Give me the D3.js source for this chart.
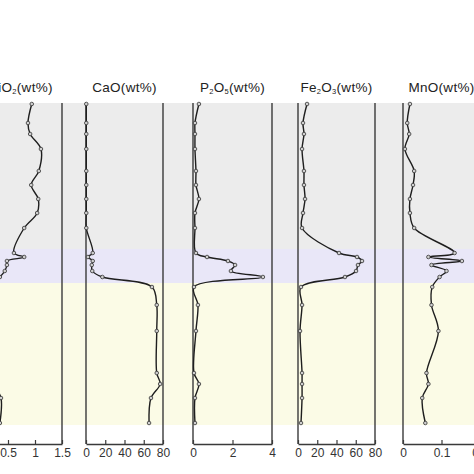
<!DOCTYPE html>
<html>
<head>
<meta charset="utf-8">
<script src="https://cdn.jsdelivr.net/npm/d3@7"></script>
<style>
  html, body { margin: 0; padding: 0; background: #fff; }
  svg { display: block; font-family: "Liberation Sans", Arial, sans-serif; }
</style>
</head>
<body>
<svg id="chart" width="474" height="474"></svg>
<script>
// sample positions (depth, arbitrary units, top = 0)
const depths = [0.1, 2.0, 3.1, 4.6, 6.8, 8.2, 9.6, 11.0, 12.5, 15.0, 15.4, 15.8, 16.2, 16.8, 17.4, 18.4, 20.2, 22.8, 27.0, 28.1, 29.5, 32.0];

const tio2  = [0.94, 0.87, 0.91, 1.11, 1.07, 0.93, 1.06, 1.04, 0.80, 0.61, 0.80, 0.48, 0.48, 0.44, 0.35, 0.18, 0.14, 0.15, 0.20, 0.24, 0.37, 0.35];
const cao   = [0.3, 0.3, 0.3, 0.3, 0.3, 0.3, 0.3, 0.3, 0.3, 7, 2, 7, 6, 6.5, 17, 68.5, 73.5, 73.5, 73.5, 77, 67.5, 65.5];
const p2o5  = [0.30, 0.10, 0.10, 0.10, 0.15, 0.15, 0.30, 0.10, 0.10, 0.15, 0.71, 1.77, 2.13, 1.92, 3.54, 0.05, 0.25, 0.15, 0.05, 0.30, 0.10, 0.10];
const fe2o3 = [9.4, 5.2, 6.2, 4.2, 6.2, 6.2, 7.3, 5.2, 4.2, 42.6, 61.3, 66.5, 62.3, 60.3, 48.8, 3.1, 4.2, 2.1, 4.2, 4.2, 4.2, 3.1];
const mno   = [0.018, 0.011, 0.016, 0.005, 0.029, 0.026, 0.018, 0.018, 0.029, 0.134, 0.066, 0.153, 0.074, 0.113, 0.095, 0.076, 0.074, 0.092, 0.061, 0.066, 0.050, 0.058];

// background units: [top, bottom]
const bands = [[0, 14.6], [14.6, 18.0], [18.0, 32.2]];
const bandColors = ["#ececec", "#e9e7f8", "#fbfbe6"];

// title pieces: [text, isSubscript]
const titles = [
  [["Ti"], ["O"], ["2", 1], ["(wt%)"]],
  [["CaO(wt%)"]],
  [["P"], ["2", 1], ["O"], ["5", 1], ["(wt%)"]],
  [["Fe"], ["2", 1], ["O"], ["3", 1], ["(wt%)"]],
  [["MnO(wt%)"]]
];
const domains = [[0, 1.5], [0, 80], [0, 4], [0, 80], [0, 0.2]];
const tickValues = [[0, 0.5, 1, 1.5], [0, 20, 40, 60, 80], [0, 2, 4], [0, 20, 40, 60, 80], [0, 0.1, 0.2]];
const series = [tio2, cao, p2o5, fe2o3, mno];

// layout
const svg = d3.select("#chart");
const plotTop = 103, plotBottom = 425, axisY = 444;
const panelX = [[-19, 62], [86, 163], [193, 272], [298, 375], [403, 480]];

const y = d3.scaleLinear().domain([0, 32.2]).range([plotTop, plotBottom]);

svg.selectAll("rect.band")
  .data(bands)
  .join("rect")
  .attr("class", "band")
  .attr("x", 0)
  .attr("width", 474)
  .attr("y", d => y(d[0]))
  .attr("height", d => y(d[1]) - y(d[0]))
  .attr("fill", (d, i) => bandColors[i]);

panelX.forEach((range, i) => {
  const x = d3.scaleLinear().domain(domains[i]).range(range);
  const g = svg.append("g");

  // borders
  range.forEach(px => {
    g.append("line")
      .attr("x1", px).attr("x2", px)
      .attr("y1", plotTop).attr("y2", axisY)
      .attr("stroke", "#3a3a3a").attr("stroke-width", 1.4);
  });

  // bottom axis
  const axis = d3.axisBottom(x)
    .tickValues(tickValues[i])
    .tickFormat(d3.format("~g"))
    .tickSizeInner(-4)
    .tickSizeOuter(0)
    .tickPadding(4);
  const ag = g.append("g")
    .attr("transform", `translate(0,${axisY})`)
    .call(axis);
  ag.select(".domain").attr("stroke", "#3a3a3a").attr("stroke-width", 1.4);
  ag.selectAll(".tick line").attr("stroke", "#3a3a3a").attr("stroke-width", 1.2);
  ag.selectAll(".tick text").attr("fill", "#333").attr("font-size", 12)
    .attr("font-family", "'Liberation Sans', Arial, sans-serif");

  // title
  const t = g.append("text")
    .attr("x", (range[0] + range[1]) / 2)
    .attr("y", 92)
    .attr("text-anchor", "middle")
    .attr("font-size", 13.5)
    .attr("letter-spacing", 0.3)
    .attr("fill", "#222");
  let shifted = false;
  titles[i].forEach(([txt, sub]) => {
    const ts = t.append("tspan").text(txt);
    if (sub) {
      ts.attr("font-size", 7.5).attr("dy", shifted ? 0 : 2);
      shifted = true;
    } else if (shifted) {
      ts.attr("dy", -2);
      shifted = false;
    }
  });

  // profile
  const pts = depths.map((dd, k) => [series[i][k], dd]);
  const line = d3.line()
    .x(d => x(d[0]))
    .y(d => y(d[1]))
    .curve(d3.curveCatmullRom.alpha(0.5));
  g.append("path")
    .datum(pts)
    .attr("d", line)
    .attr("fill", "none")
    .attr("stroke", "#1e1e1e")
    .attr("stroke-width", 1.4);
  g.selectAll("circle")
    .data(pts)
    .join("circle")
    .attr("cx", d => x(d[0]))
    .attr("cy", d => y(d[1]))
    .attr("r", 1.8)
    .attr("fill", "#cfcfcf")
    .attr("stroke", "#333")
    .attr("stroke-width", 0.8);
});
</script>
</body>
</html>
